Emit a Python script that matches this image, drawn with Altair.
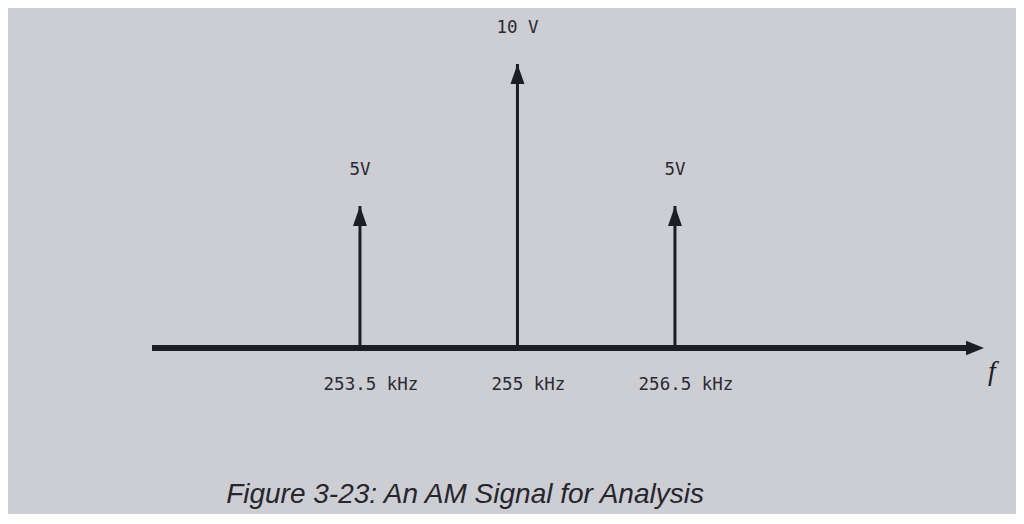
import altair as alt
import pandas as pd

# Data
freqs = [253.5, 255.0, 256.5]          # kHz
amps = [5, 10, 5]                      # V
amp_labels = ["5V", "10 V", "5V"]
freq_labels = ["253.5 kHz", "255 kHz", "256.5 kHz"]
caption = "Figure 3-23: An AM Signal for Analysis"

df = pd.DataFrame({"f": freqs, "a": amps, "al": amp_labels, "fl": freq_labels})

W, H = 1008, 506
BG = "#cdcdd4"
INK = "#1d1d24"

xs = alt.Scale(domain=[250.148, 259.748])
ys = alt.Scale(domain=[-5.845, 11.972])

base = alt.Chart(df)

# horizontal frequency axis
axis_line = alt.Chart(pd.DataFrame({"z": [0]})).mark_rule(
    color=INK, strokeWidth=6
).encode(
    x=alt.value(144), x2=alt.value(962),
    y=alt.Y("z:Q", scale=ys, axis=None),
)
axis_head = alt.Chart(pd.DataFrame({"z": [0]})).mark_point(
    shape="M0,0 L-1,-0.4 L-1,0.4 Z", size=1296, filled=True, color=INK, opacity=1
).encode(
    x=alt.value(976),
    y=alt.Y("z:Q", scale=ys, axis=None),
)
f_label = alt.Chart(pd.DataFrame({"t": ["f"]})).mark_text(
    font="Liberation Serif", fontStyle="italic", fontSize=28, color=INK,
    align="center", baseline="alphabetic"
).encode(x=alt.value(984), y=alt.value(372), text="t:N")

# spectral lines
stems = base.mark_rule(color=INK, strokeWidth=3).encode(
    x=alt.X("f:Q", scale=xs, axis=None),
    y=alt.Y("a:Q", scale=ys, axis=None),
    y2=alt.datum(0),
)
heads = base.mark_point(
    shape="M-0.35,1 L0.35,1 L0,0 Z", size=1600, filled=True, color=INK, opacity=1
).encode(
    x=alt.X("f:Q", scale=xs, axis=None),
    y=alt.Y("a:Q", scale=ys, axis=None),
)
amp_text = base.mark_text(
    font="DejaVu Sans Mono", fontSize=17.5, color="#2a2a32", dy=-36,
    align="center", baseline="middle"
).encode(
    x=alt.X("f:Q", scale=xs, axis=None),
    y=alt.Y("a:Q", scale=ys, axis=None),
    text="al:N",
)
freq_text = base.mark_text(
    font="DejaVu Sans Mono", fontSize=17.5, color="#2a2a32", dy=37, dx=11,
    align="center", baseline="middle"
).encode(
    x=alt.X("f:Q", scale=xs, axis=None),
    y=alt.Y(datum=0, scale=ys, axis=None),
    text="fl:N",
)
cap = alt.Chart(pd.DataFrame({"t": [caption]})).mark_text(
    font="Liberation Sans", fontStyle="italic", fontSize=28, color="#26262c",
    align="center", baseline="alphabetic"
).encode(x=alt.value(457), y=alt.value(495), text="t:N")

chart = alt.layer(
    axis_line, axis_head, f_label, stems, heads, amp_text, freq_text, cap
).properties(
    width=W, height=H, padding=0,
    autosize=alt.AutoSizeParams(type="fit", contains="padding"),
    background=BG,
).configure_view(stroke=None)

chart.save("out.html", embed_options={"renderer": "svg", "actions": False})
